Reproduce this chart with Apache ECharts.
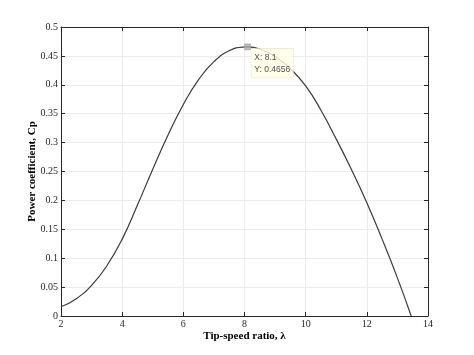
<!DOCTYPE html>
<html><head><meta charset="utf-8">
<script src="https://cdn.jsdelivr.net/npm/echarts@6/dist/echarts.min.js"></script>
<style>html,body{margin:0;padding:0;background:#fff}#c{width:474px;height:355px}</style>
</head><body><div id="c"></div>
<script>
const lambdaVals = [2, 2.5, 3, 3.5, 4, 4.5, 5, 5.5, 6, 6.5, 7, 7.5, 8, 8.1, 8.5, 9, 9.5, 10, 10.5, 11, 11.5, 12, 12.5, 13, 13.45];
const cpVals = [0.016, 0.030, 0.053, 0.087, 0.133, 0.192, 0.254, 0.313, 0.366, 0.409, 0.440, 0.459, 0.4654, 0.4656, 0.462, 0.449, 0.428, 0.398, 0.356, 0.306, 0.253, 0.196, 0.133, 0.066, 0];
const peak = [8.1, 0.4656];
const xTicks = [2, 4, 6, 8, 10, 12, 14];
const yTicks = [0, 0.05, 0.1, 0.15, 0.2, 0.25, 0.3, 0.35, 0.4, 0.45, 0.5];

const chart = echarts.init(document.getElementById('c'), null, {renderer: 'canvas'});
const axisColor = '#262626';
const font = 'Liberation Serif';
const baseX = {
  type: 'value', min: 2, max: 14, interval: 2,
  axisLine: {show: true, onZero: false, lineStyle: {color: axisColor, width: 1}},
  axisTick: {show: true, inside: true, length: 4, lineStyle: {color: axisColor}},
  splitLine: {show: false}
};
const baseY = {
  type: 'value', min: 0, max: 0.5, interval: 0.05,
  axisLine: {show: true, onZero: false, lineStyle: {color: axisColor, width: 1}},
  axisTick: {show: true, inside: true, length: 4, lineStyle: {color: axisColor}},
  splitLine: {show: false}
};
chart.setOption({
  backgroundColor: '#fff',
  animation: false,
  grid: {left: 61, right: 46, top: 27, bottom: 39, containLabel: false},
  xAxis: [
    Object.assign({}, baseX, {
      position: 'bottom',
      name: 'Tip-speed ratio, λ', nameLocation: 'middle', nameGap: 15,
      nameMoveOverlap: false,
      nameTextStyle: {fontFamily: font, fontWeight: 'bold', fontSize: 11, color: '#000'},
      axisLabel: {fontFamily: font, fontSize: 10, color: '#262626', margin: 3,
        formatter: v => xTicks.includes(v) ? String(v) : ''},
      splitLine: {show: true, lineStyle: {color: '#ebebeb', width: 1}}
    }),
    Object.assign({}, baseX, {position: 'top', axisLabel: {show: false}})
  ],
  yAxis: [
    Object.assign({}, baseY, {
      position: 'left',
      name: 'Power coefficient, Cp', nameLocation: 'middle', nameGap: 23,
      nameMoveOverlap: false,
      nameTextStyle: {fontFamily: font, fontWeight: 'bold', fontSize: 11, color: '#000'},
      axisLabel: {fontFamily: font, fontSize: 10, color: '#262626', margin: 3,
        formatter: v => {
          const t = yTicks.find(k => Math.abs(k - v) < 1e-9);
          return t === undefined ? '' : String(parseFloat(t.toFixed(2)));
        }},
      splitLine: {show: true, lineStyle: {color: '#ebebeb', width: 1}}
    }),
    Object.assign({}, baseY, {position: 'right', axisLabel: {show: false}})
  ],
  series: [
    {
      type: 'line', smooth: 0.5, showSymbol: false,
      data: lambdaVals.map((x, i) => [x, cpVals[i]]),
      lineStyle: {color: '#3a3a3a', width: 1.2},
      z: 3
    },
    {
      type: 'scatter', symbol: 'rect', symbolSize: 6,
      data: [peak],
      itemStyle: {color: '#a8a8a8', borderColor: '#8c8c8c', borderWidth: 0.5},
      label: {
        show: true, position: [7, 5],
        formatter: () => 'X: ' + peak[0] + '\nY: ' + peak[1],
        fontFamily: 'Liberation Sans', fontSize: 8.5, color: '#222', lineHeight: 12,
        backgroundColor: '#ffffe6', borderColor: '#dcdcc0', borderWidth: 0.5,
        padding: [3, 3, 2, 3], align: 'left', verticalAlign: 'top'
      },
      z: 5
    }
  ]
});
</script></body></html>
